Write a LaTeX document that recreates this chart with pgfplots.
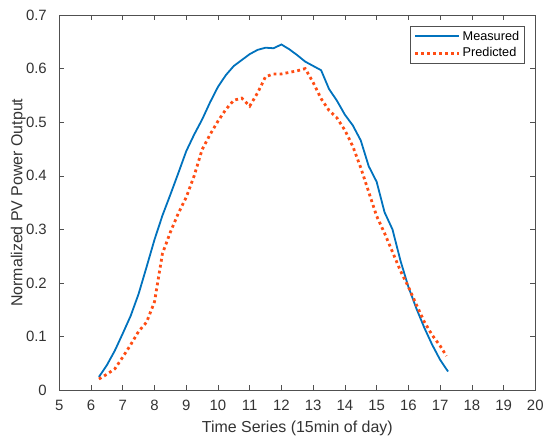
\documentclass[border=0pt]{standalone}
\usepackage{pgfplots}
\pgfplotsset{compat=1.18}
\usepackage{fontspec}
\setmainfont{Liberation Sans}
\definecolor{mblue}{RGB}{0,114,189}
\definecolor{morange}{RGB}{255,77,20}
\definecolor{axgray}{RGB}{80,80,80}
\begin{document}
\begin{tikzpicture}
\begin{axis}[
  name=ax,
  scale only axis,
  width=476bp, height=375.3bp,
  xmin=5, xmax=20, ymin=0, ymax=0.7,
  xtick={5,6,...,20},
  ytick={0,0.1,0.2,0.3,0.4,0.5,0.6,0.7},
  yticklabels={0,0.1,0.2,0.3,0.4,0.5,0.6,0.7},
  tick align=inside,
  major tick length=5bp,
  axis line style={axgray, line width=0.6bp},
  tick style={axgray, line width=0.6bp},
  /pgf/number format/assume math mode=true,
  ticklabel style={font=\fontsize{15}{18}\selectfont, text=black!80},
  xticklabel style={yshift=-6bp},
  yticklabel style={xshift=-9bp},
  xlabel={Time Series (15min of day)},
  ylabel={Normalized PV Power Output},
  label style={font=\fontsize{16}{19}\selectfont, text=black!80},
  xlabel style={at={(axis description cs:0.5,-0.1119)}, anchor=base},
  ylabel style={at={(axis description cs:-0.0861,0.5)}, anchor=center},
  legend style={at={(0.977,0.971)}, anchor=north east, draw=axgray,
    font=\fontsize{12.75}{15}\selectfont,
    inner xsep=3bp, inner ysep=3bp, row sep=2bp},
  legend cell align=left,
]
\addlegendimage{legend image code/.code={\draw[mblue, line width=1.9bp] (0bp,0bp) -- (44bp,0bp);}}
\addlegendentry{Measured}
\addlegendimage{legend image code/.code={\draw[morange, line width=3bp, dash pattern=on 3bp off 3bp] (0bp,0bp) -- (44bp,0bp);}}
\addlegendentry{Predicted}
\addplot[mblue, line width=1.8bp, forget plot] coordinates {
(6.25,0.025) (6.5,0.047) (6.75,0.074) (7.0,0.106) (7.25,0.139) (7.5,0.180)
(7.75,0.230) (8.0,0.281) (8.25,0.326) (8.5,0.365) (8.75,0.405) (9.0,0.446)
(9.25,0.477) (9.5,0.505) (9.75,0.537) (10.0,0.566) (10.25,0.588) (10.5,0.605)
(10.75,0.616) (11.0,0.627) (11.25,0.635) (11.5,0.639) (11.75,0.638) (12.0,0.645)
(12.25,0.636) (12.5,0.625) (12.75,0.613) (13.0,0.605) (13.25,0.597) (13.5,0.562)
(13.75,0.540) (14.0,0.514) (14.25,0.494) (14.5,0.466) (14.75,0.418) (15.0,0.389)
(15.25,0.332) (15.5,0.300) (15.75,0.242) (16.0,0.193) (16.25,0.153) (16.5,0.117)
(16.75,0.085) (17.0,0.057) (17.25,0.035)
};
\addplot[morange, line width=2.8bp, dash pattern=on 2.8bp off 3.2bp, forget plot] coordinates {
(6.25,0.021) (6.5,0.030) (6.75,0.040) (7.0,0.062) (7.25,0.085) (7.5,0.110)
(7.75,0.127) (8.0,0.165) (8.25,0.255) (8.5,0.295) (8.75,0.330) (9.0,0.360)
(9.25,0.400) (9.5,0.449) (9.75,0.477) (10.0,0.502) (10.25,0.524) (10.5,0.541)
(10.75,0.545) (11.0,0.530) (11.25,0.555) (11.5,0.585) (11.75,0.590) (12.0,0.590)
(12.25,0.593) (12.5,0.596) (12.75,0.600) (13.0,0.574) (13.25,0.544) (13.5,0.522)
(13.75,0.508) (14.0,0.485) (14.25,0.455) (14.5,0.415) (14.75,0.370) (15.0,0.325)
(15.25,0.293) (15.5,0.258) (15.75,0.223) (16.0,0.193) (16.25,0.160) (16.5,0.128)
(16.75,0.103) (17.0,0.083) (17.2,0.064)
};
\end{axis}
\pgfresetboundingbox
\path[use as bounding box] ([shift={(-59.3bp,-51.7bp)}]ax.south west) rectangle ([shift={(14.7bp,15bp)}]ax.north east);
\end{tikzpicture}
\end{document}
